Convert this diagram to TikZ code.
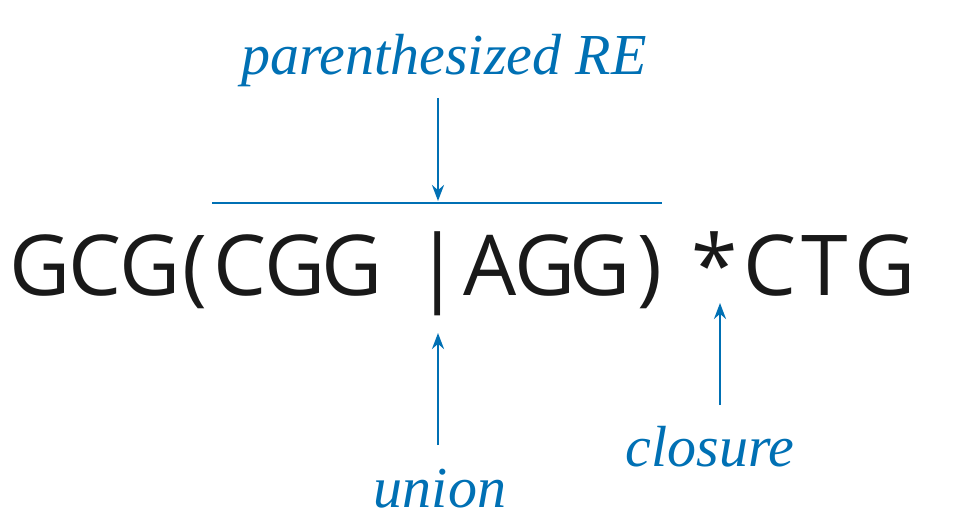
\documentclass[tikz,border=0pt]{standalone}
\usepackage{fontspec}
\usetikzlibrary{arrows.meta}
\setmainfont{Liberation Serif}
\newfontfamily\codefont{Open Sans}
\definecolor{reblue}{RGB}{0,112,180}
\begin{document}
\begin{tikzpicture}[x=1pt,y=-1pt,
  chr/.style={anchor=base,inner sep=0pt,font=\codefont\fontsize{84}{84}\selectfont,text=black!90},
  lab/.style={anchor=base,inner sep=0pt,text=reblue,font=\itshape\fontsize{58}{58}\selectfont},
  arr/.style={reblue,line width=2.6pt,-{Stealth[length=16pt,width=12pt]}}]
\useasboundingbox (0,0) rectangle (966,532);
\foreach \c/\x [count=\i] in {{G}/40,{C}/95,{G}/150,{(}/195,{C}/240,{G}/295,{G}/352,{|}/438,{A}/490,{G}/545,{G}/600,{)}/650,{*}/715,{C}/770,{T}/825,{G}/885}
  \node[chr] (c\i) at (\x,295) {\c};
\draw[reblue,line width=2.6pt] (212,203) -- (662,203);
\node[lab] (pre) at (444,75) {parenthesized RE};
\node[lab] (uni) at (440,507) {union};
\node[lab] (clo) at (710,466) {closure};
\coordinate (pt) at (438,98);
\coordinate (ph) at (438,201);
\coordinate (ut) at (438,445);
\coordinate (uh) at (438,333);
\coordinate (ct) at (720,405);
\coordinate (chd) at (720,303);
\draw[arr] (pt) -- (ph);
\draw[arr] (ut) -- (uh);
\draw[arr] (ct) -- (chd);
\end{tikzpicture}
\end{document}
